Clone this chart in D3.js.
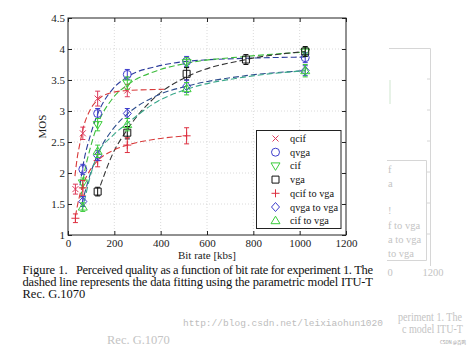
<!DOCTYPE html>
<html>
<head>
<meta charset="utf-8">
<script src="https://cdn.jsdelivr.net/npm/d3@7"></script>
<style>
body { margin: 0; background: #fff; }
svg { display: block; }
</style>
</head>
<body>
<svg id="chart" width="474" height="351"></svg>
<script>
// measured points (bit rate in kbs, MOS, half error bar)
const qcifRate = [32, 64, 128, 256];
const qcifMos = [1.74, 2.64, 3.2, 3.33];
const qcifErr = [0.08, 0.1, 0.12, 0.1];

const qvgaRate = [64, 128, 256, 512, 1024];
const qvgaMos = [2.06, 2.96, 3.59, 3.8, 3.86];
const qvgaErr = [0.08, 0.08, 0.08, 0.08, 0.08];

const cifRate = [64, 128, 256, 512, 1024];
const cifMos = [1.84, 2.78, 3.45, 3.78, 3.95];
const cifErr = [0.08, 0.1, 0.1, 0.08, 0.07];

const vgaRate = [128, 256, 512, 768, 1024];
const vgaMos = [1.70, 2.65, 3.6, 3.83, 3.96];
const vgaErr = [0.07, 0.1, 0.1, 0.08, 0.08];

const qcifVgaRate = [32, 64, 128, 256, 512];
const qcifVgaMos = [1.27, 1.76, 2.2, 2.45, 2.6];
const qcifVgaErr = [0.07, 0.12, 0.1, 0.12, 0.13];

const qvgaVgaRate = [64, 128, 256, 512, 1024];
const qvgaVgaMos = [1.54, 2.28, 2.96, 3.4, 3.65];
const qvgaVgaErr = [0.08, 0.08, 0.08, 0.1, 0.08];

const cifVgaRate = [64, 128, 256, 512, 1024];
const cifVgaMos = [1.45, 2.35, 2.78, 3.36, 3.65];
const cifVgaErr = [0.07, 0.1, 0.1, 0.1, 0.1];

// fitted curves
const qcifFit = [[30, 1.95], [40, 2.25], [50, 2.45], [64, 2.7], [96, 3.02], [128, 3.18], [192, 3.3], [256, 3.33], [420, 3.35]];
const qvgaFit = [[52, 1.8], [64, 2.1], [96, 2.6], [128, 2.95], [192, 3.35], [256, 3.55], [384, 3.72], [512, 3.8], [768, 3.85], [1024, 3.87]];
const cifFit = [[55, 1.6], [64, 1.85], [96, 2.4], [128, 2.78], [192, 3.2], [256, 3.42], [384, 3.65], [512, 3.77], [768, 3.88], [1024, 3.95]];
const vgaFit = [[140, 1.8], [192, 2.3], [256, 2.7], [384, 3.25], [512, 3.55], [768, 3.83], [1024, 3.96]];
const qcifVgaFit = [[32, 1.3], [48, 1.6], [64, 1.8], [96, 2.05], [128, 2.2], [192, 2.36], [256, 2.45], [384, 2.55], [512, 2.6]];
const qvgaVgaFit = [[60, 1.5], [64, 1.56], [96, 1.98], [128, 2.3], [192, 2.7], [256, 2.95], [384, 3.25], [512, 3.4], [768, 3.57], [1024, 3.65]];
const cifVgaFit = [[60, 1.4], [64, 1.45], [96, 1.95], [128, 2.3], [192, 2.6], [256, 2.8], [384, 3.15], [512, 3.35], [768, 3.55], [1024, 3.65]];

const names = ["qcif", "qvga", "cif", "vga", "qcif to vga", "qvga to vga", "cif to vga"];
const xTicks = [0, 200, 400, 600, 800, 1000, 1200];
const yTicks = [1, 1.5, 2, 2.5, 3, 3.5, 4, 4.5];

const series = [
    { name: names[0], rate: qcifRate, mos: qcifMos, err: qcifErr, fit: qcifFit, mark: "x", color: "#dd3a5a", fitColor: "#d83a3a" },
    { name: names[1], rate: qvgaRate, mos: qvgaMos, err: qvgaErr, fit: qvgaFit, mark: "o", color: "#3d3dcc", fitColor: "#2d3d9c" },
    { name: names[2], rate: cifRate, mos: cifMos, err: cifErr, fit: cifFit, mark: "v", color: "#3ccc3c", fitColor: "#3cbc3c" },
    { name: names[3], rate: vgaRate, mos: vgaMos, err: vgaErr, fit: vgaFit, mark: "s", color: "#111", fitColor: "#333" },
    { name: names[4], rate: qcifVgaRate, mos: qcifVgaMos, err: qcifVgaErr, fit: qcifVgaFit, mark: "+", color: "#dd3040", fitColor: "#d83a3a" },
    { name: names[5], rate: qvgaVgaRate, mos: qvgaVgaMos, err: qvgaVgaErr, fit: qvgaVgaFit, mark: "d", color: "#3d3dcc", fitColor: "#2d4d8c" },
    { name: names[6], rate: cifVgaRate, mos: cifVgaMos, err: cifVgaErr, fit: cifVgaFit, mark: "^", color: "#3ccc3c", fitColor: "#3aa88a" }
];

const plotLeft = 68, plotRight = 346, plotTop = 18, plotBottom = 235;
const serif = "'Liberation Serif', 'Times New Roman', serif";

const svg = d3.select("#chart");
svg.append("rect").attr("width", 474).attr("height", 351).attr("fill", "#fff");

// faint ghost copy showing at the right and bottom
const ghost = svg.append("g").attr("fill", "none").attr("stroke", "#d6d6d6").attr("stroke-width", 1);
ghost.append("path").attr("d", "M389,48.5H430.5V266");
ghost.append("path").attr("d", "M387,160.5H426.5V260.5H387");
[79, 110, 141, 172, 203, 234].forEach(function (y) {
    ghost.append("line").attr("x1", 427).attr("x2", 430).attr("y1", y).attr("y2", y);
});
ghost.append("line").attr("x1", 390).attr("x2", 390).attr("y1", 80).attr("y2", 104).attr("stroke", "#cfe6cf");
const ghostText = svg.append("g").attr("font-family", serif).attr("fill", "#c4c4c4").attr("font-size", 10.5);
[["f", 169], ["a", 183], ["!", 210], ["f to vga", 225], ["a to vga", 239], ["to vga", 253]].forEach(function (t) {
    ghostText.append("text").attr("x", 388).attr("y", t[1] + 3.5).text(t[0]);
});
ghostText.append("text").attr("x", 390).attr("y", 276).attr("text-anchor", "middle").text("0");
ghostText.append("text").attr("x", 433).attr("y", 276).attr("text-anchor", "middle").text("1200");
ghostText.append("text").attr("x", 398).attr("y", 321).attr("font-size", 12)
    .attr("textLength", 64).attr("lengthAdjust", "spacingAndGlyphs").text("periment 1. The");
ghostText.append("text").attr("x", 402).attr("y", 333).attr("font-size", 12)
    .attr("textLength", 61).attr("lengthAdjust", "spacingAndGlyphs").text("c model ITU-T");
ghostText.append("text").attr("x", 107).attr("y", 344).attr("font-size", 12.5).text("Rec. G.1070");
svg.append("text").attr("x", 183).attr("y", 326).attr("font-family", "'Liberation Mono', monospace")
    .attr("font-size", 9.5).attr("fill", "#bdbdbd").attr("textLength", 200).text("http://blog.csdn.net/leixiaohun1020");
svg.append("text").attr("x", 440).attr("y", 344).attr("font-family", "'Noto Sans CJK SC', sans-serif")
    .attr("font-size", 4.5).attr("fill", "#999").text("CSDN @百鸣");

// scales
const xScale = d3.scaleLinear().domain([0, 1200]).range([plotLeft, plotRight]);
const yScale = d3.scaleLinear().domain([1, 4.5]).range([plotBottom, plotTop]);

// dotted grid
const grid = svg.append("g").attr("stroke", "#d0d0d0").attr("stroke-dasharray", "1,2").attr("stroke-width", 0.8);
xTicks.slice(1, -1).forEach(function (t) {
    grid.append("line").attr("x1", xScale(t)).attr("x2", xScale(t)).attr("y1", plotTop).attr("y2", plotBottom);
});
yTicks.slice(1, -1).forEach(function (t) {
    grid.append("line").attr("x1", plotLeft).attr("x2", plotRight).attr("y1", yScale(t)).attr("y2", yScale(t));
});

// axes with inward ticks
function styleAxis(g) {
    g.select(".domain").remove();
    g.selectAll(".tick line").attr("stroke", "#222");
    g.selectAll("text").attr("font-family", serif).attr("font-size", 11).attr("fill", "#222");
}
svg.append("g").attr("transform", `translate(0,${plotBottom})`)
    .call(d3.axisBottom(xScale).tickValues(xTicks).tickSize(-4).tickPadding(4).tickFormat(d3.format("d")))
    .call(styleAxis);
svg.append("g").attr("transform", `translate(${plotLeft},0)`)
    .call(d3.axisLeft(yScale).tickValues(yTicks).tickSize(-4).tickPadding(3).tickFormat(d3.format("")))
    .call(styleAxis);
svg.append("g").attr("transform", `translate(0,${plotTop})`)
    .call(d3.axisTop(xScale).tickValues(xTicks).tickSize(-4).tickFormat(""))
    .call(styleAxis);
svg.append("g").attr("transform", `translate(${plotRight},0)`)
    .call(d3.axisRight(yScale).tickValues(yTicks).tickSize(-4).tickFormat(""))
    .call(styleAxis);

// marker shapes
function markerPath(type) {
    const p = d3.path();
    if (type === "x") { p.moveTo(-3, -3); p.lineTo(3, 3); p.moveTo(-3, 3); p.lineTo(3, -3); }
    if (type === "+") { p.moveTo(-4, 0); p.lineTo(4, 0); p.moveTo(0, -4); p.lineTo(0, 4); }
    if (type === "o") { p.moveTo(4, 0); p.arc(0, 0, 4, 0, 2 * Math.PI); }
    if (type === "s") { p.rect(-3.5, -3.5, 7, 7); }
    if (type === "d") { p.moveTo(0, -4.5); p.lineTo(4, 0); p.lineTo(0, 4.5); p.lineTo(-4, 0); p.closePath(); }
    if (type === "v") { p.moveTo(-4.5, -3); p.lineTo(4.5, -3); p.lineTo(0, 4.5); p.closePath(); }
    if (type === "^") { p.moveTo(-4.5, 3); p.lineTo(4.5, 3); p.lineTo(0, -4.5); p.closePath(); }
    return p.toString();
}

// fitted dashed curves
const fitLine = d3.line()
    .x(function (d) { return xScale(d[0]); })
    .y(function (d) { return yScale(d[1]); })
    .curve(d3.curveMonotoneX);
svg.append("g").selectAll("path")
    .data(series)
    .join("path")
    .attr("d", function (s) { return fitLine(s.fit); })
    .attr("fill", "none")
    .attr("stroke", function (s) { return s.fitColor; })
    .attr("stroke-width", 1.1)
    .attr("stroke-dasharray", "6,3");

// points with error bars
series.forEach(function (s) {
    const pts = s.rate.map(function (r, i) { return { r: r, m: s.mos[i], e: s.err[i] }; });
    const g = svg.append("g").attr("stroke", s.color).attr("fill", "none").attr("stroke-width", 1);
    g.selectAll(".bar")
        .data(pts)
        .join("path")
        .attr("d", function (d) {
            const x = xScale(d.r), y0 = yScale(d.m - d.e), y1 = yScale(d.m + d.e);
            return `M${x},${y0}V${y1}M${x - 2.5},${y0}H${x + 2.5}M${x - 2.5},${y1}H${x + 2.5}`;
        });
    g.selectAll(".dot")
        .data(pts)
        .join("path")
        .attr("transform", function (d) { return `translate(${xScale(d.r)},${yScale(d.m)})`; })
        .attr("d", markerPath(s.mark));
});

// frame
svg.append("rect").attr("x", plotLeft).attr("y", plotTop).attr("width", plotRight - plotLeft).attr("height", plotBottom - plotTop)
    .attr("fill", "none").attr("stroke", "#222").attr("stroke-width", 1);

// axis titles
svg.append("text").attr("x", 207).attr("y", 259).attr("text-anchor", "middle")
    .attr("font-family", serif).attr("font-size", 11).attr("fill", "#222").text("Bit rate [kbs]");
svg.append("text").attr("transform", "translate(46,126.5) rotate(-90)").attr("text-anchor", "middle")
    .attr("font-family", serif).attr("font-size", 11).attr("fill", "#222").text("MOS");

// legend
const legend = svg.append("g");
legend.append("rect").attr("x", 256.5).attr("y", 130.5).attr("width", 84.5).attr("height", 98)
    .attr("fill", "#fff").attr("stroke", "#222");
series.forEach(function (s, i) {
    const y = 138.5 + i * 13.7;
    legend.append("path").attr("transform", `translate(275.5,${y})`).attr("d", markerPath(s.mark))
        .attr("fill", "none").attr("stroke", s.color);
    legend.append("text").attr("x", 290).attr("y", y + 3.5).attr("font-family", serif)
        .attr("font-size", 10.3).attr("fill", "#111").text(s.name);
});

// caption
const cap = svg.append("g").attr("font-family", serif).attr("font-size", 12.5).attr("fill", "#111");
cap.append("text").attr("x", 22.5).attr("y", 274).text("Figure 1.");
cap.append("text").attr("x", 76).attr("y", 274).attr("textLength", 297).attr("lengthAdjust", "spacing")
    .text("Perceived quality as a function of bit rate for experiment 1. The");
cap.append("text").attr("x", 22.5).attr("y", 286).attr("textLength", 350.5).attr("lengthAdjust", "spacing")
    .text("dashed line represents the data fitting using the parametric model ITU-T");
cap.append("text").attr("x", 22.5).attr("y", 297.5).text("Rec. G.1070");
</script>
</body>
</html>
